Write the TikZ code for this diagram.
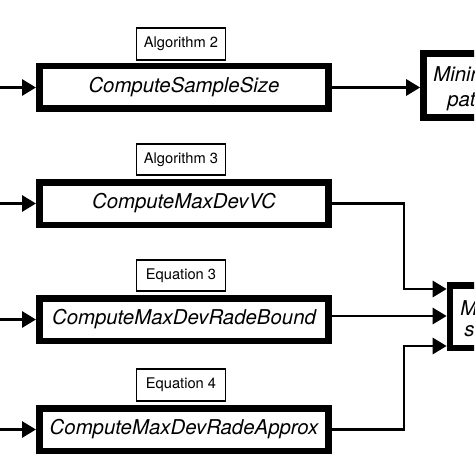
\documentclass[tikz,border=0pt]{standalone}
\usepackage{fontspec}
\setmainfont{TeX Gyre Heros}
\usetikzlibrary{arrows.meta}
\begin{document}
\begin{tikzpicture}[x=0.75pt,y=-0.75pt,
  mainbox/.style={draw, line width=5pt, minimum width=217pt, minimum height=32pt, inner sep=0pt,
    font=\fontsize{15.3}{18}\selectfont\itshape},
  labelbox/.style={draw, line width=1.2pt, minimum width=67pt, minimum height=23.6pt, inner sep=0pt,
    font=\fontsize{11}{13}\selectfont},
  outbox/.style={draw, line width=5pt, minimum width=75pt, inner sep=0pt},
  conn/.style={line width=2.2pt, -{Triangle[length=10.5pt,width=12pt]}},
  rtext/.style={anchor=base west, inner sep=0pt, font=\fontsize{15.3}{18}\selectfont\itshape}]
\useasboundingbox (0,0) rectangle (474,474);
\clip (0,0) rectangle (474,474);

% main boxes
\node[mainbox] (b1) at (184,87.5) {ComputeSampleSize};
\node[mainbox] (b2) at (184,203.5) {ComputeMaxDevVC};
\node[mainbox] (b3) at (184,319.5) {ComputeMaxDevRadeBound};
\node[mainbox] (b4) at (184,429.5) {ComputeMaxDevRadeApprox};

% labels
\node[labelbox] (l1) at (181,44) {Algorithm 2};
\node[labelbox] (l2) at (181,159.5) {Algorithm 3};
\node[labelbox] (l3) at (181,275.5) {Equation 3};
\node[labelbox] (l4) at (181,385) {Equation 4};

% right boxes
\node[outbox, minimum height=48pt] (r1) at (473.5,85.5) {};
\node[outbox, minimum height=47pt] (r2) at (500,316.5) {};
\node[rtext] (t1) at (433,82) {Minin};
\node[rtext] (t2) at (447,107) {pat};
\node[rtext] (t3) at (460,315) {M};
\node[rtext] (t4) at (464,336) {s};

% inputs
\coordinate (i1) at (-5,87.5);
\coordinate (i2) at (-5,203.5);
\coordinate (i3) at (-5,319.5);
\coordinate (i4) at (-5,429.5);
\draw[conn] (i1) -- (b1);
\draw[conn] (i2) -- (b2);
\draw[conn] (i3) -- (b3);
\draw[conn] (i4) -- (b4);

% outputs
\draw[conn] (b1.east) -- (b1.east -| r1.west);
\coordinate (e2) at (404,289);
\coordinate (e4) at (404,346);
\draw[conn] (b2.east) -| (e2) -- (e2 -| r2.west);
\draw[conn] (b3.east |- 0,316) coordinate (s3) -- (s3 -| r2.west);
\draw[conn] (b4.east) -| (e4) -- (e4 -| r2.west);
\end{tikzpicture}
\end{document}
